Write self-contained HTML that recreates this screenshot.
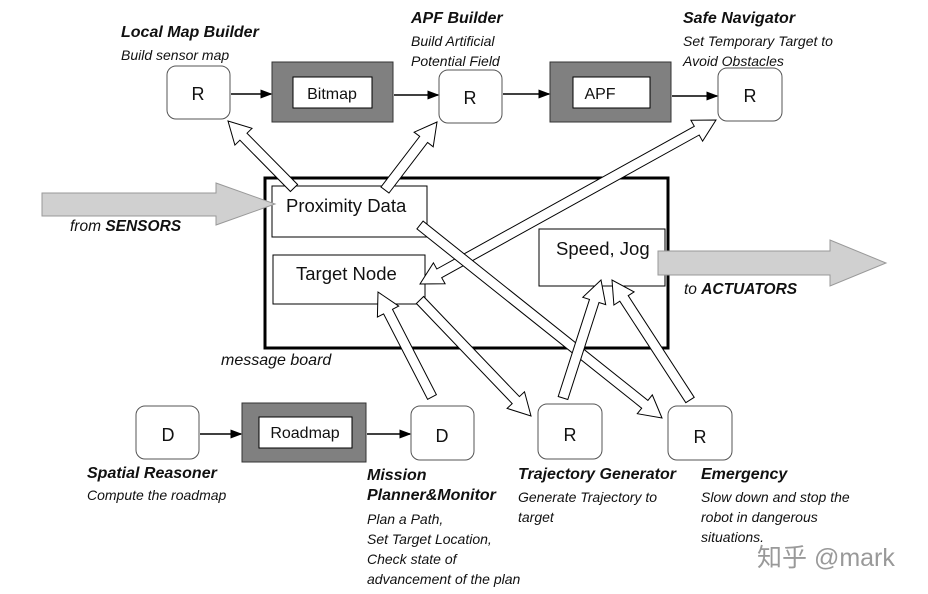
<!DOCTYPE html>
<html><head><meta charset="utf-8"><style>
body{margin:0;background:#fff;width:928px;height:594px;overflow:hidden;position:relative;font-family:"Liberation Sans","Noto Sans CJK SC",sans-serif}
.t{position:absolute;white-space:nowrap;color:#111}
.b{font-weight:bold;font-style:italic;font-size:16px}
.i{font-style:italic;font-size:14px;line-height:20px}
</style></head><body>
<svg id="s" width="928" height="594" style="position:absolute;left:0;top:0" font-family="Liberation Sans, sans-serif">
<defs><marker id="a" markerWidth="8" markerHeight="8" refX="7" refY="4" orient="auto"><path d="M0,1 L8,4 L0,7z" fill="#000"/></marker></defs>
<rect x="167" y="66" width="63" height="53" rx="9" fill="#fff" stroke="#555"/>
<rect x="272" y="62" width="121" height="60" fill="#808080" stroke="#333"/>
<rect x="293" y="77" width="79" height="31" fill="#fff" stroke="#000"/>
<rect x="439" y="70" width="63" height="53" rx="9" fill="#fff" stroke="#555"/>
<rect x="550" y="62" width="121" height="60" fill="#808080" stroke="#333"/>
<rect x="573" y="77" width="77" height="31" fill="#fff" stroke="#000"/>
<rect x="718" y="68" width="64" height="53" rx="9" fill="#fff" stroke="#555"/>
<g stroke="#000" stroke-width="1.5" marker-end="url(#a)">
<line x1="231" y1="94" x2="271" y2="94"/><line x1="394" y1="95" x2="438" y2="95"/>
<line x1="503" y1="94" x2="549" y2="94"/><line x1="672" y1="96" x2="717" y2="96"/>
<line x1="200" y1="434" x2="241" y2="434"/><line x1="367" y1="434" x2="410" y2="434"/>
</g>
<g font-size="18" text-anchor="middle" fill="#111">
<text x="198" y="100">R</text><text x="332" y="99" font-size="16">Bitmap</text>
<text x="470" y="104">R</text><text x="600" y="99" font-size="16">APF</text><text x="750" y="102">R</text>
</g>
<rect x="265" y="178" width="403" height="170" fill="none" stroke="#000" stroke-width="3"/>
<rect x="272" y="186" width="155" height="51" fill="#fff" stroke="#000"/>
<rect x="273" y="255" width="152" height="49" fill="#fff" stroke="#000"/>
<rect x="539" y="229" width="126" height="57" fill="#fff" stroke="#000"/>
<g font-size="18.5" fill="#111">
<text x="286" y="212">Proximity Data</text><text x="296" y="280">Target Node</text><text x="556" y="255">Speed, Jog</text>
</g>
<polygon points="42,193 216,193 216,183 275,204 216,225 216,216 42,216" fill="#d0d0d0" stroke="#999"/>
<polygon points="658,251 830,251 830,240 886,263 830,286 830,275 658,275" fill="#d0d0d0" stroke="#999"/>
<rect x="136" y="406" width="63" height="53" rx="9" fill="#fff" stroke="#555"/>
<rect x="242" y="403" width="124" height="59" fill="#808080" stroke="#333"/>
<rect x="259" y="417" width="93" height="31" fill="#fff" stroke="#000"/>
<rect x="411" y="406" width="63" height="54" rx="9" fill="#fff" stroke="#555"/>
<rect x="538" y="404" width="64" height="55" rx="9" fill="#fff" stroke="#555"/>
<rect x="668" y="406" width="64" height="54" rx="9" fill="#fff" stroke="#555"/>
<g font-size="18" text-anchor="middle" fill="#111">
<text x="168" y="441">D</text><text x="305" y="438" font-size="16">Roadmap</text>
<text x="442" y="442">D</text><text x="570" y="441">R</text><text x="700" y="443">R</text>
</g>
<g id="h" fill="#fff" stroke="#000" stroke-width="1"></g>
</svg>
<div class="t b" style="left:121px;top:24px">Local Map Builder</div>
<div class="t i" style="left:121px;top:45px">Build sensor map</div>
<div class="t b" style="left:411px;top:10px">APF Builder</div>
<div class="t i" style="left:411px;top:31px">Build Artificial<br>Potential Field</div>
<div class="t b" style="left:683px;top:10px">Safe Navigator</div>
<div class="t i" style="left:683px;top:31px">Set Temporary Target to<br>Avoid Obstacles</div>
<div class="t" style="left:70px;top:218px;font-size:15.5px;font-style:italic">from <b>SENSORS</b></div>
<div class="t" style="left:684px;top:281px;font-size:15.5px;font-style:italic">to <b>ACTUATORS</b></div>
<div class="t" style="left:221px;top:352px;font-size:16px;font-style:italic">message board</div>
<div class="t b" style="left:87px;top:465px">Spatial Reasoner</div>
<div class="t i" style="left:87px;top:485px">Compute the roadmap</div>
<div class="t b" style="left:367px;top:466px;line-height:20px">Mission<br>Planner&amp;Monitor</div>
<div class="t i" style="left:367px;top:509px">Plan a Path,<br>Set Target Location,<br>Check state of<br>advancement of the plan</div>
<div class="t b" style="left:518px;top:466px">Trajectory Generator</div>
<div class="t i" style="left:518px;top:487px">Generate Trajectory to<br>target</div>
<div class="t b" style="left:701px;top:466px">Emergency</div>
<div class="t i" style="left:701px;top:487px">Slow down and stop the<br>robot in dangerous<br>situations.</div>
<div class="t" style="left:757px;top:538px;font-size:25px;color:#999">知乎 @mark</div>
<script>
function arr(x1,y1,x2,y2,both){
 var dx=x2-x1,dy=y2-y1,L=Math.hypot(dx,dy),ux=dx/L,uy=dy/L,nx=-uy,ny=ux,w=5,hw=12,hl=22;
 function P(t,o){return (x1+ux*t+nx*o).toFixed(1)+","+(y1+uy*t+ny*o).toFixed(1);}
 var p=[];
 if(both){p.push(P(0,0),P(hl,hw),P(hl,w));}else{p.push(P(0,w));}
 p.push(P(L-hl,w),P(L-hl,hw),P(L,0),P(L-hl,-hw),P(L-hl,-w));
 if(both){p.push(P(hl,-w),P(hl,-hw));}else{p.push(P(0,-w));}
 var e=document.createElementNS("http://www.w3.org/2000/svg","polygon");
 e.setAttribute("points",p.join(" "));document.getElementById("h").appendChild(e);
}
arr(294,188,228,121);arr(385,190,437,122);arr(420,284,716,120,true);
arr(420,225,662,418);arr(420,300,531,416);arr(432,397,378,292);
arr(563,398,601,280);arr(690,400,612,280);
</script>
</body></html>
